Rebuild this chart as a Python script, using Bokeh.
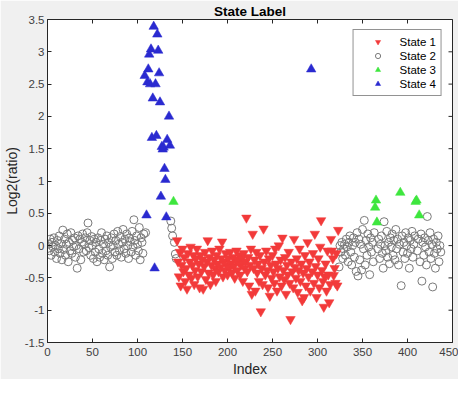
import math
from bokeh.plotting import figure
from bokeh.models import ColumnDataSource, Legend, LegendItem
from bokeh.embed import file_html
from bokeh.resources import INLINE

# ---------------- data ----------------
x_ticks = [0, 50, 100, 150, 200, 250, 300, 350, 400, 450]
y_ticks = [-1.5, -1, -0.5, 0, 0.5, 1, 1.5, 2, 2.5, 3, 3.5]
y_tick_labels = ["-1.5", "-1", "-0.5", "0", "0.5", "1", "1.5", "2", "2.5", "3", "3.5"]
series_names = ["State 1", "State 2", "State 3", "State 4"]

# State 1 (red), contiguous index blocks: start index + values
s1_a_start = 144
s1_a_vals = [0.08, -0.25, -0.48, -0.10, -0.62, -0.30, -0.05, -0.40, -0.18, -0.55,
             -0.35, -0.67, -0.12, -0.45, -0.25, -0.02, -0.50, -0.30, -0.15, -0.60,
             -0.38, -0.20, -0.05, -0.48, -0.28, -0.65, -0.15, -0.40, -0.22, -0.67,
             -0.32, -0.10, -0.52, -0.25, 0.08, -0.42, -0.18, -0.60, -0.30, -0.08,
             -0.45, -0.22, -0.35, -0.55, -0.15, -0.28, -0.40, -0.05, -0.33, -0.20,
             0.06, -0.48, -0.25, -0.38, -0.12, -0.30, -0.45, -0.20, -0.35, -0.10,
             -0.28, -0.42, -0.18, -0.32, -0.50, -0.22, -0.08, -0.38, -0.25, -0.15,
             -0.45, -0.30, -0.20, -0.55, -0.12, -0.35, -0.25, 0.43, -0.40, -0.18,
             -0.62, -0.30, -0.05, -0.75, 0.18, -0.35, -0.22, -0.70, -0.10, -0.42,
             -0.28, -0.55, -0.15, -1.02, -0.35, -0.60, 0.26, -0.25, -0.45, -0.08,
             -0.38, -0.65, -0.20, -0.78, -0.30, -0.50, -0.15, -0.40, -0.58, -0.05,
             -0.28, -0.70, -0.35, 0.00, -0.48, -0.22, -0.62, 0.12, -0.38, -0.52,
             -0.18, -0.75, -0.30, -0.45, -0.10, -0.58, -1.14, -0.25, -0.40, -0.65,
             0.10, -0.33, -0.50, -0.20, -0.72, -0.38, -0.05, -0.55, -0.28, -0.85,
             -0.42, -0.80, -0.15, -0.62, -0.35, 0.05, -0.48, -0.25, -0.70]
s1_b_start = 294
s1_b_vals = [-0.40, -0.12, -0.58, 0.18, -0.32, -0.80, -0.45, -0.20, -0.65, -0.02,
             0.39, -0.38, -0.55, -0.95, -0.48, -0.28, -0.70, -0.08, -0.45, -0.88,
             -0.60, 0.10, -0.08, -0.20, -0.46, -0.35, -0.58, -0.12, -0.62, 0.24]

# State 2 (grey circles)
s2_a_start = 1
s2_a_vals = [0.02, -0.08, 0.10, -0.15, 0.05, -0.02, 0.12, -0.10, 0.00, -0.20,
             0.08, -0.05, 0.15, -0.12, 0.03, -0.22, 0.24, -0.06, 0.10, -0.15,
             0.02, 0.18, -0.25, 0.05, -0.08, 0.20, -0.12, 0.08, -0.02, 0.12,
             -0.18, 0.00, -0.35, 0.15, -0.05, 0.10, -0.22, 0.05, 0.18, -0.10,
             0.02, 0.12, -0.08, 0.20, 0.35, -0.03, 0.08, -0.15, 0.14, 0.00,
             -0.20, 0.10, -0.10, 0.05, -0.25, 0.12, -0.05, -0.18, 0.08, 0.20,
             -0.12, 0.02, -0.22, 0.10, -0.08, 0.15, -0.15, 0.05, -0.33, -0.02,
             0.12, -0.20, 0.00, 0.18, -0.10, 0.08, -0.15, 0.22, 0.02, -0.08,
             0.14, -0.18, 0.05, 0.25, -0.05, 0.10, -0.12, 0.18, 0.00, -0.20,
             0.12, 0.06, -0.10, 0.22, -0.02, 0.40, 0.08, -0.15, 0.15, 0.02,
             -0.08, 0.28, -0.22, 0.12, 0.05, -0.12, 0.18]
s2_b_idx = [109, 137, 138, 139, 141, 142, 143]
s2_b_vals = [0.20, 0.38, 0.27, 0.15, 0.05, -0.13, -0.20]
s2_c_start = 324
s2_c_vals = [-0.33, 0.00, -0.10, 0.05, -0.20, -0.05, 0.02, -0.15, 0.10, -0.02,
             -0.25, 0.05, 0.15, -0.10, -0.30, 0.00, 0.12, -0.18, 0.05, -0.40,
             0.20, -0.47, 0.10, -0.22, 0.02, -0.38, 0.25, -0.05, 0.39, -0.30,
             0.08, -0.15, 0.18, -0.02, -0.45, 0.12, -0.10, 0.05, -0.25, 0.20]
s2_d_start = 367
s2_d_vals = [-0.05, 0.10, -0.20, 0.02, 0.15, -0.12, -0.35, 0.37, 0.00, -0.08,
             0.22, -0.18, 0.05, -0.28, 0.12, -0.02, 0.18, -0.15, 0.08, -0.22,
             0.25, -0.05, 0.10, -0.30, 0.02]
s2_e_start = 393
s2_e_vals = [-0.62, 0.15, -0.10, 0.05, -0.20, 0.20, 0.00, -0.12, 0.12, -0.35,
             0.08, -0.05, 0.22, -0.18, 0.02, 0.15]
s2_f_idx = [411, 412]
s2_f_vals = [-0.08, 0.10]
s2_g_start = 414
s2_g_vals = [-0.25, 0.18, -0.55, 0.05, -0.15, 0.12, -0.02, -0.30, 0.45, 0.08,
             -0.10, 0.20, -0.20, 0.02, -0.64, 0.10, -0.12, -0.35, 0.05, -0.05,
             0.15, -0.25, 0.00, -0.10]

# State 3 (green)
s3_idx = [140, 364, 365, 366, 392, 409, 410, 413]
s3_vals = [0.68, 0.59, 0.70, 0.36, 0.82, 0.68, 0.70, 0.47]

# State 4 (blue)
s4_idx = [108, 110, 111, 112, 113, 114, 115, 116, 117, 118, 119, 120, 121, 122,
          123, 124, 125, 126, 127, 128, 129, 130, 131, 132, 133, 135, 136, 293]
s4_vals = [2.63, 0.47, 2.53, 2.73, 2.96, 2.50, 3.04, 1.67, 2.28, 3.39, -0.35, 2.50,
           1.70, 3.27, 3.02, 2.67, 2.22, 0.76, 1.53, 1.49, 1.52, 1.19, 1.02, 0.44,
           1.64, 2.00, 1.55, 2.73]


def block(start, vals):
    return list(range(start, start + len(vals))), list(vals)


s1_x, s1_y = [], []
for st, vv in [(s1_a_start, s1_a_vals), (s1_b_start, s1_b_vals)]:
    bx, by = block(st, vv)
    s1_x += bx
    s1_y += by

s2_x, s2_y = [], []
for st, vv in [(s2_a_start, s2_a_vals), (s2_c_start, s2_c_vals),
               (s2_d_start, s2_d_vals), (s2_e_start, s2_e_vals), (s2_g_start, s2_g_vals)]:
    bx, by = block(st, vv)
    s2_x += bx
    s2_y += by
s2_x += s2_b_idx + s2_f_idx
s2_y += s2_b_vals + s2_f_vals

FONT = "Liberation Sans"
AX = "#262626"

p = figure(width=458, height=379, x_range=(x_ticks[0], x_ticks[-1]),
           y_range=(y_ticks[0], y_ticks[-1]),
           output_backend="svg", toolbar_location=None, title="State Label",
           min_border_left=35, min_border_right=6, min_border_top=15, min_border_bottom=35)

p.background_fill_color = "white"
p.border_fill_color = "#f0f0f0"
p.outline_line_color = AX
p.xgrid.visible = False
p.ygrid.visible = False

p.title.align = "center"
p.title.text_font = FONT
p.title.text_font_size = "13.5px"
p.title.text_font_style = "bold"
p.title.text_color = "#000000"
p.title.standoff = 2

for ax in [p.xaxis[0], p.yaxis[0]]:
    ax.major_tick_in = 4
    ax.major_tick_out = 0
    ax.minor_tick_line_color = None
    ax.axis_line_color = AX
    ax.major_tick_line_color = AX
    ax.major_label_text_font = FONT
    ax.major_label_text_font_size = "11.5px"
    ax.major_label_text_color = "#404040"
    ax.axis_label_text_font = FONT
    ax.axis_label_text_font_size = "14px"
    ax.axis_label_text_font_style = "normal"
    ax.axis_label_text_color = AX

p.xaxis.ticker = x_ticks
p.yaxis.ticker = y_ticks
p.yaxis.major_label_overrides = {t: s for t, s in zip(y_ticks, y_tick_labels)}
p.xaxis.axis_label = "Index"
p.yaxis.axis_label = "Log2(ratio)"
p.xaxis.major_label_standoff = 5
p.yaxis.major_label_standoff = 3
p.xaxis.axis_label_standoff = 2
p.yaxis.axis_label_standoff = 2

# inward tick marks on the top and right edges of the box
p.scatter(x=x_ticks, y=[p.y_range.end] * len(x_ticks), marker="dash",
          angle=math.pi / 2, size=8, line_color=AX, line_width=1)
p.scatter(x=[p.x_range.end] * len(y_ticks), y=y_ticks, marker="dash",
          size=8, line_color=AX, line_width=1)

src1 = ColumnDataSource(dict(x=s1_x, y=s1_y))
src2 = ColumnDataSource(dict(x=s2_x, y=s2_y))
src3 = ColumnDataSource(dict(x=s3_idx, y=s3_vals))
src4 = ColumnDataSource(dict(x=s4_idx, y=s4_vals))

r2 = p.scatter("x", "y", source=src2, marker="circle", size=8, fill_color=None,
               line_color="#7a7a7a", line_width=1)
r1 = p.scatter("x", "y", source=src1, marker="inverted_triangle", size=9.5,
               fill_color="#f23a3a", line_color="#f23a3a", line_width=0.5)
r3 = p.scatter("x", "y", source=src3, marker="triangle", size=9.5,
               fill_color="#3ee63e", line_color="#3ee63e", line_width=0.5)
r4 = p.scatter("x", "y", source=src4, marker="triangle", size=9.5,
               fill_color="#2a2ad0", line_color="#2a2ad0", line_width=0.5)

legend = Legend(items=[LegendItem(label=series_names[0], renderers=[r1]),
                       LegendItem(label=series_names[1], renderers=[r2]),
                       LegendItem(label=series_names[2], renderers=[r3]),
                       LegendItem(label=series_names[3], renderers=[r4])],
                location="top_right")
legend.border_line_color = AX
legend.background_fill_color = "white"
legend.background_fill_alpha = 1.0
legend.label_text_font = FONT
legend.label_text_font_size = "11.5px"
legend.label_text_color = "#000000"
legend.glyph_width = 38
legend.glyph_height = 13
legend.label_height = 13
legend.spacing = 1
legend.padding = 5
legend.margin = 10
legend.label_standoff = 3
p.add_layout(legend)

open("out.html", "w").write(file_html(p, INLINE))
